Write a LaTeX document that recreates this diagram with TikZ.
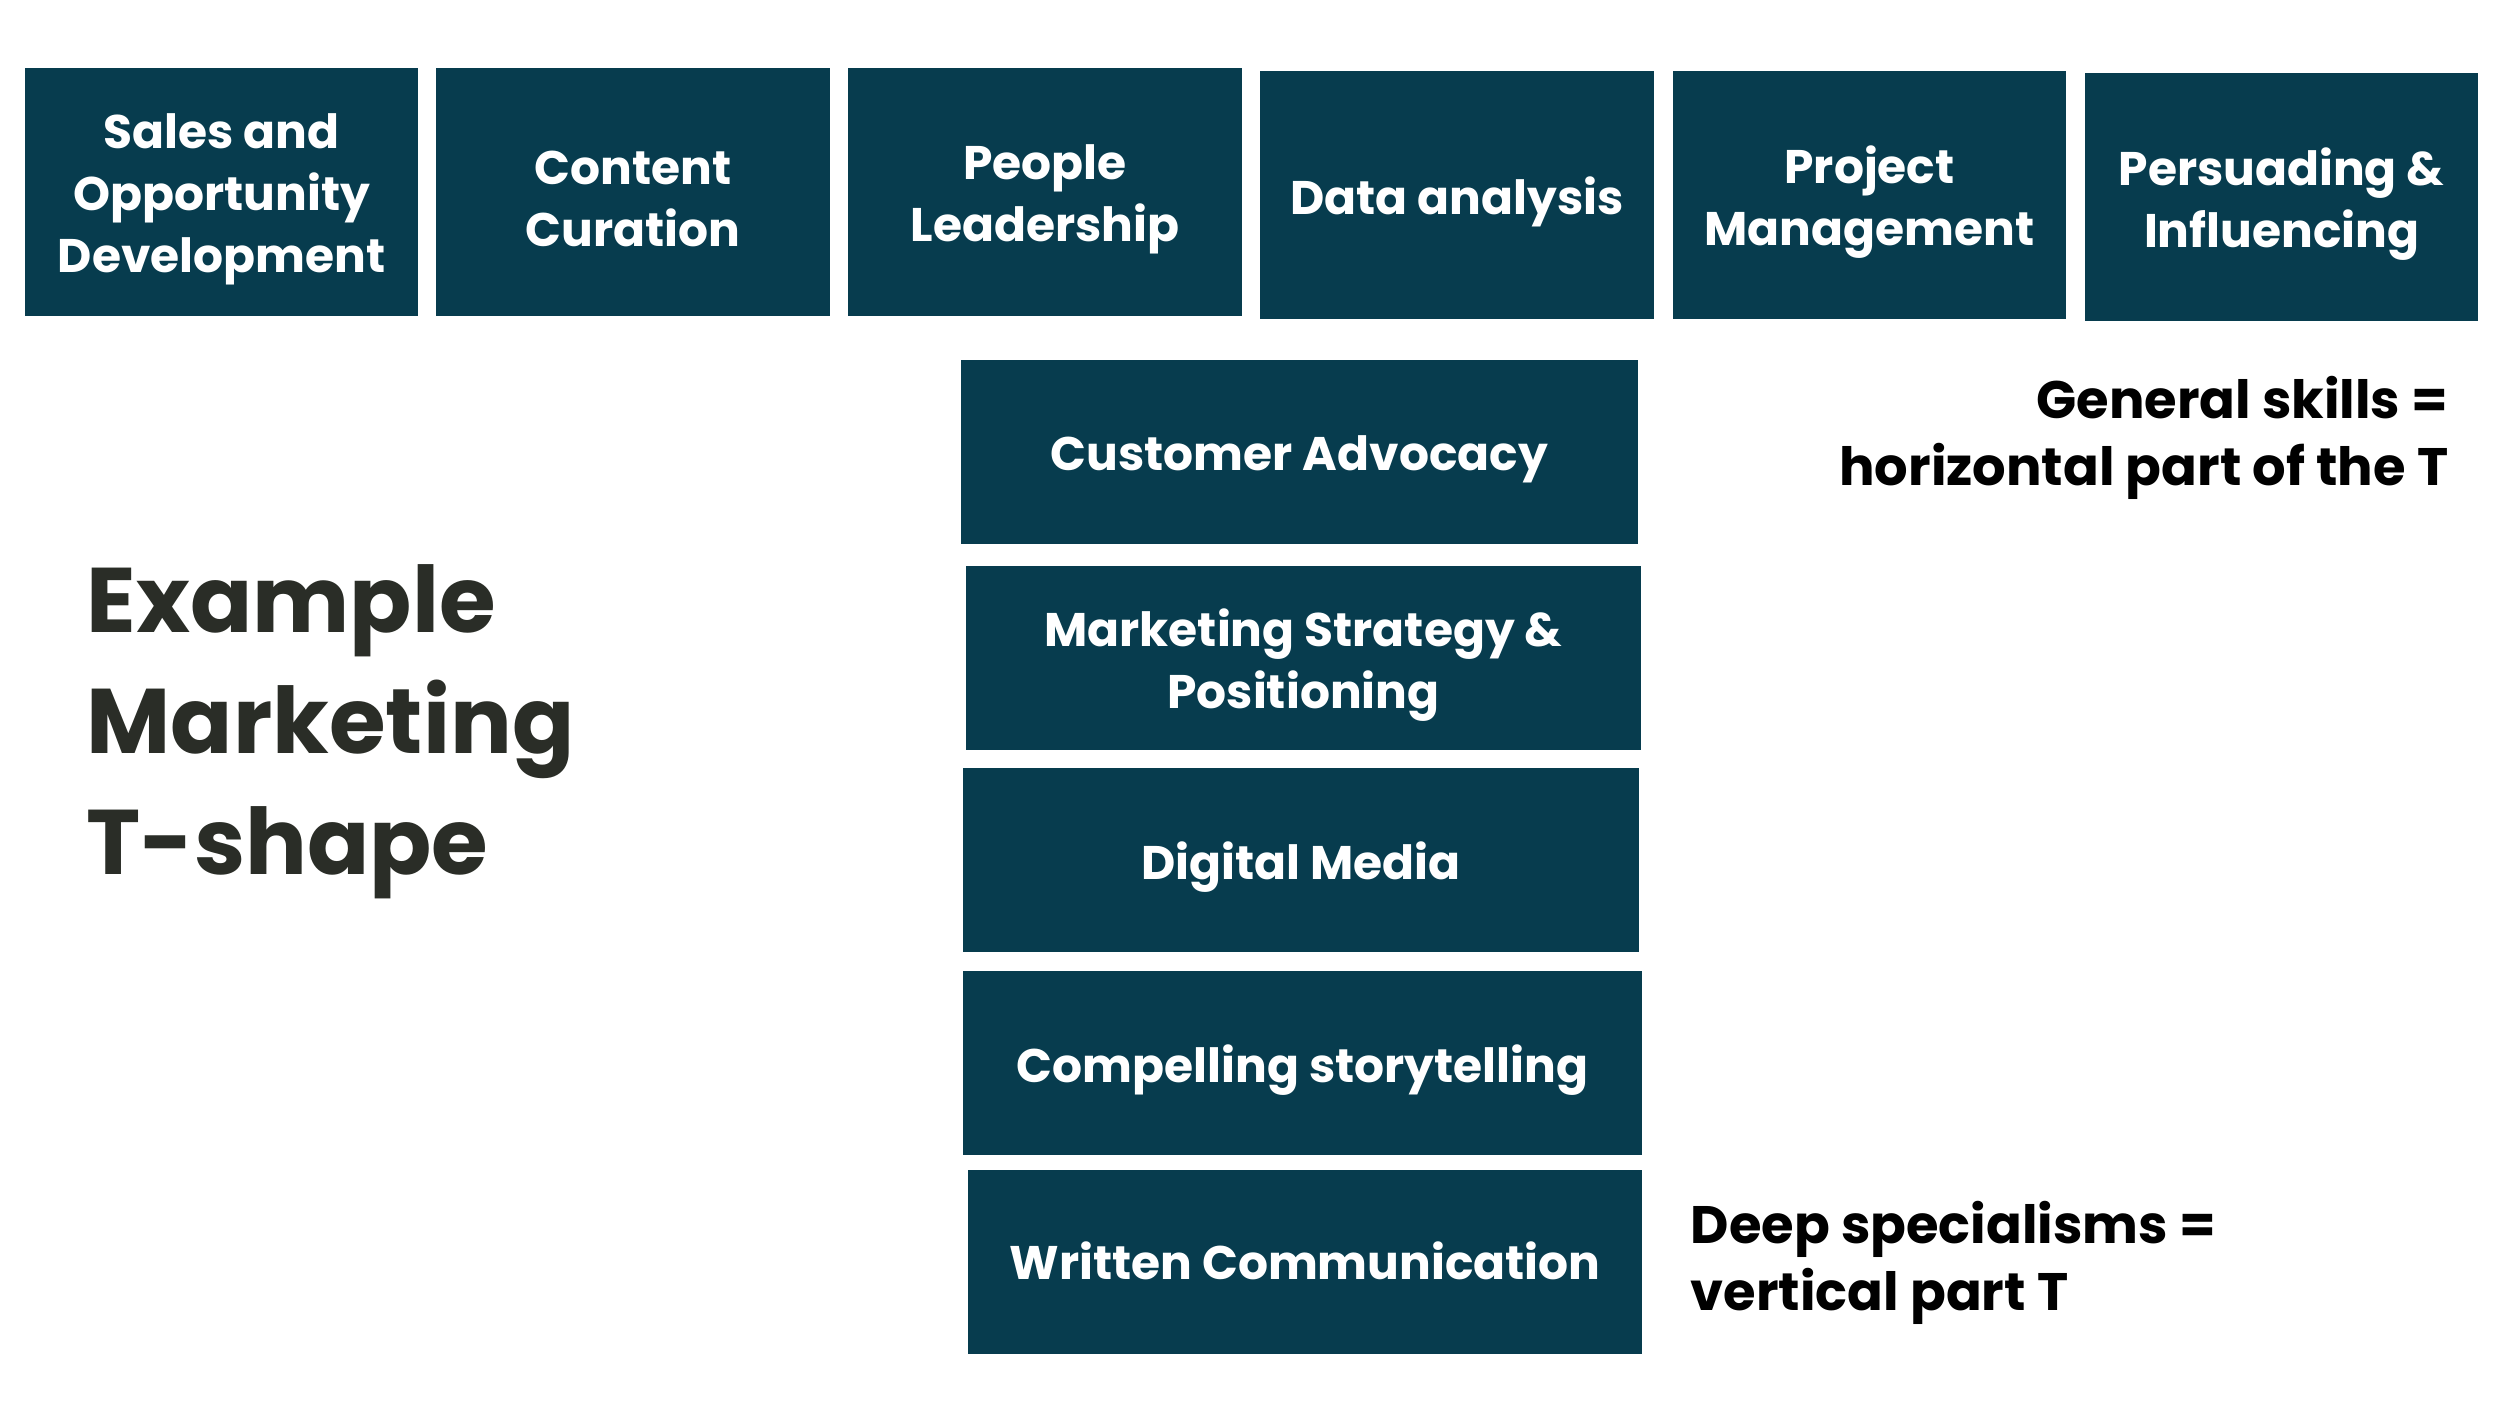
\documentclass[tikz,border=0pt]{standalone}
\usepackage{fontspec}
\setmainfont{Poppins}
\definecolor{boxc}{HTML}{073C4E}
\definecolor{titlec}{HTML}{2A2D27}
\begin{document}
\begin{tikzpicture}[x=0.01cm,y=-0.01cm,
  skillbox/.style={fill=boxc,draw=none,inner sep=0pt},
  boxtext/.style={text=white,align=center,inner sep=0pt,yshift=-0.07cm,
    font=\fontsize{13.4}{17.6}\selectfont\bfseries},
  topbox/.style={skillbox,minimum width=3.93cm,minimum height=2.47cm},
  deepbox/.style={skillbox,minimum width=6.75cm,minimum height=1.84cm},
  note/.style={text=black,inner sep=0pt,font=\fontsize{15}{19}\selectfont\bfseries}]
\useasboundingbox[fill=white] (0,0) rectangle (2500,1406);
% horizontal part
\node[topbox,label={[boxtext]center:{Sales and\\Opportunity\\Development}}] (sales) at (221.6,192) {};
\node[topbox,label={[boxtext]center:{Content\\Curation}}] (content) at (633,192) {};
\node[topbox,label={[boxtext]center:{People\\Leadership}}] (people) at (1045,192) {};
\node[topbox,label={[boxtext]center:{Data analysis}}] (data) at (1457,195) {};
\node[topbox,label={[boxtext]center:{Project\\Management}}] (project) at (1869.5,195) {};
\node[topbox,label={[boxtext]center:{Persuading \&\\Influencing}}] (persuade) at (2281.6,197) {};
% vertical part
\node[deepbox,minimum width=6.76cm,label={[boxtext]center:{Customer Advocacy}}] (advocacy) at (1299.4,452) {};
\node[deepbox,minimum width=6.74cm,label={[boxtext]center:{Marketing Strategy \&\\Positioning}}] (strategy) at (1303.4,657.7) {};
\node[deepbox,minimum width=6.76cm,label={[boxtext]center:{Digital Media}}] (digital) at (1301,860) {};
\node[deepbox,minimum width=6.79cm,label={[boxtext]center:{Compelling storytelling}}] (story) at (1302.6,1062.7) {};
\node[deepbox,minimum width=6.74cm,label={[boxtext,yshift=0.08cm]center:{Written Communication}}] (written) at (1305,1262) {};
% texts
\node[anchor=west,align=left,inner sep=0pt,text=titlec,
  font=\fontsize{26.1}{34.4}\selectfont\bfseries] (title) at (86,732) {Example\\Marketing\\T-shape};
\node[note,anchor=east,align=right] (general) at (2449,438) {General skills =\\horizontal part of the T};
\node[note,anchor=west,align=left] (deep) at (1690,1263) {Deep specialisms =\\vertical part T};
\end{tikzpicture}
\end{document}
